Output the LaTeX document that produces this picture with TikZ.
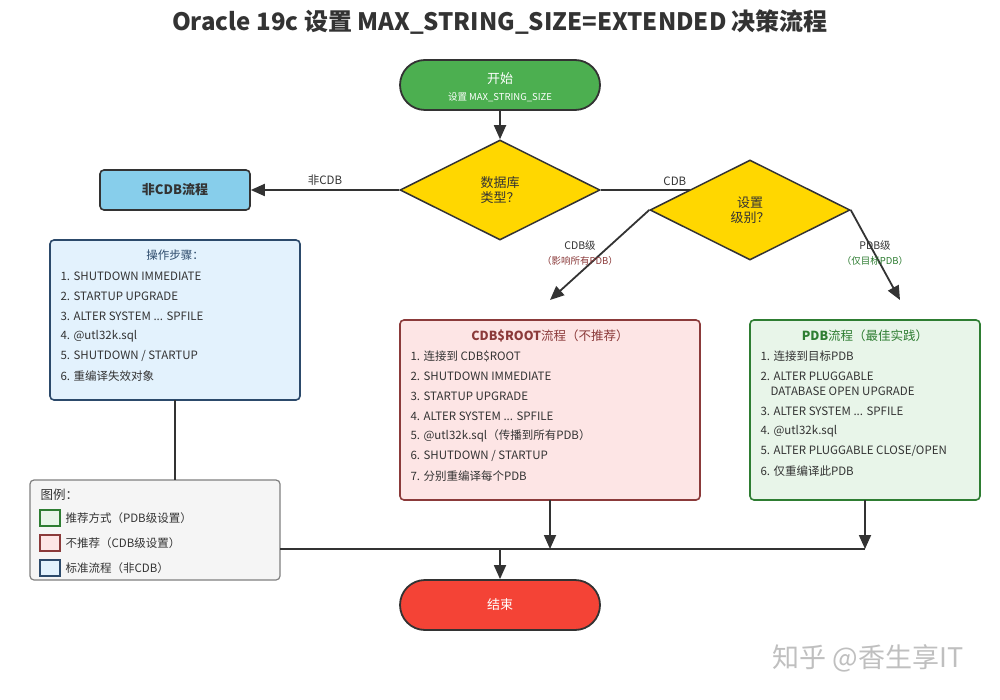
\documentclass[tikz,border=0pt]{standalone}
\usepackage{fontspec}
\setmainfont{Noto Sans CJK SC}
\usetikzlibrary{shapes.geometric,arrows.meta}
\definecolor{ink}{HTML}{333333}
\definecolor{sgreen}{HTML}{4CAF50}
\definecolor{sred}{HTML}{F44336}
\definecolor{gold}{HTML}{FFD700}
\definecolor{sky}{HTML}{87CEEB}
\definecolor{bfill}{HTML}{E3F2FD}
\definecolor{bline}{HTML}{2C4A6B}
\definecolor{rfill}{HTML}{FDE5E5}
\definecolor{rline}{HTML}{8B3A3A}
\definecolor{gfill}{HTML}{E8F5E9}
\definecolor{gline}{HTML}{2E7D32}
\begin{document}
\begin{tikzpicture}[x=1pt,y=-1pt,
  every node/.style={text=ink,font=\fontsize{11.5}{13}\selectfont},
  conn/.style={draw=ink,line width=1.8pt},
  arr/.style={conn,-{Triangle[length=14pt,width=12pt]}},
  term/.style={rounded corners=25pt,draw=ink,line width=1.8pt,minimum width=200pt,minimum height=50pt},
  dia/.style={diamond,aspect=2,draw=ink,line width=1.5pt,fill=gold,minimum width=200pt,minimum height=100pt,inner sep=0pt,align=center,font=\fontsize{13}{15}\selectfont},
  box/.style={rounded corners=4pt,line width=1.6pt},
  stp/.style={anchor=west,font=\fontsize{11.5}{13}\selectfont},
  lab/.style={font=\fontsize{11.5}{13}\selectfont}]
\useasboundingbox (0,0) rectangle (1000,700);
\fill[white] (0,0) rectangle (1000,700);
\node (title) at (500,22) {\fontsize{24}{28}\selectfont\bfseries Oracle 19c 设置 MAX\_STRING\_SIZE=EXTENDED 决策流程};
% start
\node[term,fill=sgreen] (start) at (500,85) {};
\node[text=white,font=\fontsize{13}{15}\selectfont] (st1) at (500,79) {开始};
\node[text=white,font=\fontsize{9.5}{11}\selectfont] (st2) at (500,97) {设置 MAX\_STRING\_SIZE};
% diamonds
\node[dia] (d1) at (500,190) {数据库\\类型？};
\node[dia] (d2) at (750,210) {设置\\级别？};
% non-CDB box
\node[box,draw=ink,fill=sky,minimum width=150pt,minimum height=40pt,font=\fontsize{13}{15}\selectfont\bfseries] (ncdb) at (175,190) {非CDB流程};
\draw[arr] (d1.west) -- (ncdb.east) node[pos=0.5,above,lab] (l1) {非CDB};
\coordinate (d2in) at (690,190);
\draw[conn] (d1.east) -- (d2in) node[pos=0.83,above,lab] (l2) {CDB};
\coordinate (ra) at (550,300);
\coordinate (ga) at (900,300);
\draw[arr] (d2.west) -- (ra);
\draw[arr] (d2.east) -- (ga);
\node[lab,font=\fontsize{10.5}{12}\selectfont] (l3) at (580,246) {CDB级};
\node[text=rline,font=\fontsize{9.5}{11}\selectfont] (l4) at (580,261) {（影响所有PDB）};
\node[lab,font=\fontsize{10.5}{12}\selectfont] (l5) at (875,246) {PDB级};
\node[text=gline,font=\fontsize{9.5}{11}\selectfont] (l6) at (875,261) {（仅目标PDB）};
% blue box
\draw[box,draw=bline,fill=bfill] (50,240) rectangle (300,400);
\node[text=bline] (bt) at (175,255) {操作步骤：};
\node[stp] (b1) at (57,276) {1. SHUTDOWN IMMEDIATE};
\node[stp] (b2) at (57,296) {2. STARTUP UPGRADE};
\node[stp] (b3) at (57,316) {3. ALTER SYSTEM ... SPFILE};
\node[stp] (b4) at (57,336) {4. @utl32k.sql};
\node[stp] (b5) at (57,356) {5. SHUTDOWN / STARTUP};
\node[stp] (b6) at (57,376) {6. 重编译失效对象};
% red box
\draw[box,draw=rline,fill=rfill] (400,320) rectangle (700,500);
\node[text=rline,font=\fontsize{12.5}{14}\selectfont] (rt) at (550,336) {\textbf{CDB\$ROOT}流程（不推荐）};
\node[stp] (r1) at (407,356) {1. 连接到 CDB\$ROOT};
\node[stp] (r2) at (407,376) {2. SHUTDOWN IMMEDIATE};
\node[stp] (r3) at (407,396) {3. STARTUP UPGRADE};
\node[stp] (r4) at (407,416) {4. ALTER SYSTEM ... SPFILE};
\node[stp] (r5) at (407,436) {5. @utl32k.sql（传播到所有PDB）};
\node[stp] (r6) at (407,456) {6. SHUTDOWN / STARTUP};
\node[stp] (r7) at (407,476) {7. 分别重编译每个PDB};
% green box
\draw[box,draw=gline,fill=gfill] (750,320) rectangle (980,500);
\node[text=gline,font=\fontsize{12.5}{14}\selectfont] (gt) at (865,336) {\textbf{PDB}流程（最佳实践）};
\node[stp] (g1) at (757,356) {1. 连接到目标PDB};
\node[stp] (g2) at (757,376) {2. ALTER PLUGGABLE};
\node[stp] (g2b) at (767,391) {DATABASE OPEN UPGRADE};
\node[stp] (g3) at (757,411) {3. ALTER SYSTEM ... SPFILE};
\node[stp] (g4) at (757,431) {4. @utl32k.sql};
\node[stp] (g5) at (757,451) {5. ALTER PLUGGABLE CLOSE/OPEN};
\node[stp] (g6) at (757,471) {6. 仅重编译此PDB};
% legend
\draw[box,draw=gray,fill=black!4,line width=1.2pt] (30,480) rectangle (280,580);
\node[stp,font=\fontsize{12.5}{14}\selectfont] (lg) at (37,495) {图例：};
\draw[draw=gline,fill=gfill,line width=1.5pt] (40,510) rectangle (60,526);
\node[stp] (lg1) at (62,518) {推荐方式（PDB级设置）};
\draw[draw=rline,fill=rfill,line width=1.5pt] (40,535) rectangle (60,551);
\node[stp] (lg2) at (62,543) {不推荐（CDB级设置）};
\draw[draw=bline,fill=bfill,line width=1.5pt] (40,560) rectangle (60,576);
\node[stp] (lg3) at (62,568) {标准流程（非CDB）};
% end
\node[term,fill=sred] (end) at (500,605) {};
\node[text=white,font=\fontsize{13}{15}\selectfont] (et) at (500,605) {结束};
% merge lines
\coordinate (bb) at (175,400);
\coordinate (lt) at (175,480);
\draw[conn] (bb) -- (lt);
\coordinate (m0) at (280,549);
\coordinate (mr) at (550,549);
\coordinate (mg) at (865,549);
\coordinate (mc) at (500,549);
\coordinate (rb) at (550,500);
\coordinate (gb) at (865,500);
\draw[conn] (m0) -- (mg);
\draw[arr] (rb) -- (mr);
\draw[arr] (gb) -- (mg);
\draw[arr] (mc) -- (end.north);
\draw[arr] (start.south) -- (d1.north);
% watermark
\node[text=black!25,font=\fontsize{27}{30}\selectfont] (wm) at (868,658) {知乎 @香生享IT};
\end{tikzpicture}
\end{document}
